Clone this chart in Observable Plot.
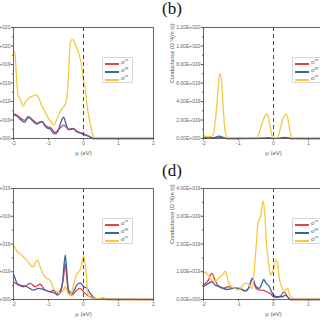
<!DOCTYPE html>
<html><head><meta charset="utf-8">
<script src="https://cdn.jsdelivr.net/npm/d3@7"></script>
<script src="https://cdn.jsdelivr.net/npm/@observablehq/plot@0.6"></script>
<style>
body{margin:0;background:#fff;}
#chart{position:relative;width:320px;height:320px;overflow:hidden;background:#fff;font-family:"Liberation Sans",Arial,sans-serif;}
.panel{position:absolute;}
.plabel{position:absolute;font-family:"Liberation Serif","DejaVu Serif",serif;font-size:17px;line-height:1;color:#111;}
.legend{position:absolute;width:31px;height:26px;border:1px solid #d8d8d8;background:#fff;box-sizing:border-box;}
.legend .row{position:absolute;left:2px;height:8px;width:30px;}
.legend .ln{position:absolute;left:0;top:3px;width:14px;height:2px;}
.legend .tx{position:absolute;left:16px;top:-1px;font-size:6px;color:#555;line-height:1;}
.legend sup{font-size:3.5px;vertical-align:3px;}
</style></head>
<body><div id="chart"></div>
<script>
// x ticks and y ticks
const xTicks = [-2, -1, 0, 1, 2];
const yTicksAB = [0, 2, 4, 6, 8, 10, 12];   // units of 1e19
const yTicksCD = [0, 1, 2, 3, 4];
const seriesNames = ["xx", "yy", "zz"];
const seriesColors = ["#de4448", "#3e61a6", "#f4c93e"];
const panelLabels = ["(b)", "(d)"];
const xTitle = "μ (eV)";
const yTitle = "Conductance (Ω⁻¹/(m s))";

// panel (a) values, [μ, σ in 1e19]
const aXX = [[-2,2.7],[-1.9,2.5],[-1.8,2.2],[-1.68,1.95],[-1.58,2.35],[-1.5,2.15],[-1.4,1.85],[-1.33,1.65],[-1.25,1.8],[-1.18,1.85],[-1.1,1.45],[-1.02,1.25],[-0.95,1.2],[-0.87,0.85],[-0.8,0.65],[-0.72,0.95],[-0.64,1.25],[-0.57,1.45],[-0.5,1.25],[-0.43,1.0],[-0.36,1.05],[-0.29,1.1],[-0.2,0.8],[-0.1,0.65],[0,0.5],[0.1,0.35],[0.2,0.15],[0.28,0],[2,0]];
const aYY = [[-2,2.55],[-1.9,2.4],[-1.8,2.05],[-1.68,1.75],[-1.58,2.3],[-1.5,2.1],[-1.4,1.7],[-1.33,1.55],[-1.25,1.75],[-1.18,1.8],[-1.1,1.35],[-1.02,1.1],[-0.95,1.05],[-0.87,0.6],[-0.8,0.5],[-0.72,0.9],[-0.64,1.8],[-0.57,2.3],[-0.5,1.6],[-0.43,0.95],[-0.36,1.0],[-0.29,1.05],[-0.2,0.75],[-0.1,0.6],[0,0.45],[0.1,0.3],[0.2,0.15],[0.28,0],[2,0]];
const aZZ = [[-2,9.5],[-1.96,9.2],[-1.92,7.0],[-1.87,4.7],[-1.8,4.2],[-1.73,3.5],[-1.65,4.0],[-1.55,4.4],[-1.45,4.6],[-1.35,4.75],[-1.28,4.4],[-1.2,3.6],[-1.1,2.9],[-1.0,2.2],[-0.9,1.7],[-0.85,1.45],[-0.78,1.9],[-0.7,2.6],[-0.62,3.2],[-0.52,3.7],[-0.47,4.6],[-0.42,7.5],[-0.38,10.3],[-0.33,10.7],[-0.27,10.5],[-0.22,10.0],[-0.17,9.6],[-0.12,9.0],[-0.06,8.0],[0,6.3],[0.05,5.4],[0.1,3.6],[0.18,1.8],[0.25,0.6],[0.3,0.1],[0.36,0],[2,0]];

// panel (b)
const bXX = [[-2,0.05],[-1.7,0.05],[-1.55,0.12],[-1.4,0.03],[-1.3,0],[0.2,0.02],[0.35,0.05],[0.5,0],[2,0]];
const bYY = [[-2,0.1],[-1.7,0.1],[-1.55,0.25],[-1.4,0.05],[-1.3,0],[-0.3,0.03],[-0.15,0.08],[0,0.02],[0.2,0.05],[0.35,0.12],[0.5,0],[2,0]];
const bZZ = [[-2,0.3],[-1.9,0.2],[-1.8,0.2],[-1.72,0.4],[-1.66,2.0],[-1.6,4.5],[-1.55,6.7],[-1.52,7.0],[-1.48,6.0],[-1.44,3.5],[-1.39,1.0],[-1.34,0.2],[-1.3,0],[-0.5,0],[-0.42,0.5],[-0.33,1.6],[-0.25,2.4],[-0.19,2.65],[-0.14,2.2],[-0.08,1.0],[-0.03,0.1],[0.1,0],[0.15,0.4],[0.22,1.5],[0.3,2.4],[0.36,2.65],[0.42,2.0],[0.47,0.8],[0.52,0.1],[0.56,0],[2,0]];

// panel (c)
const cXX = [[-2,0.64],[-1.86,0.52],[-1.71,0.46],[-1.52,0.58],[-1.38,0.46],[-1.24,0.55],[-1.1,0.34],[-0.95,0.28],[-0.76,0.22],[-0.62,0.46],[-0.56,0.9],[-0.52,1.3],[-0.48,0.82],[-0.43,0.28],[-0.33,0.16],[-0.19,0.34],[-0.1,0.4],[0,0.28],[0.1,0.16],[0.24,0.07],[0.4,0.02],[0.52,0.04],[0.57,0.07],[0.65,0],[2,0]];
const cYY = [[-2,0.9],[-1.95,0.75],[-1.9,0.58],[-1.81,0.52],[-1.62,0.46],[-1.43,0.34],[-1.29,0.4],[-1.14,0.36],[-0.95,0.28],[-0.86,0.34],[-0.76,0.16],[-0.67,0.22],[-0.6,0.6],[-0.56,1.2],[-0.52,1.6],[-0.48,1.06],[-0.43,0.34],[-0.33,0.22],[-0.19,0.52],[-0.1,0.6],[0,0.46],[0.1,0.4],[0.19,0.22],[0.29,0.07],[0.4,0.02],[2,0]];
const cZZ = [[-2,1.96],[-1.95,1.85],[-1.88,1.7],[-1.81,1.66],[-1.71,1.52],[-1.62,1.42],[-1.52,1.24],[-1.43,1.18],[-1.36,1.35],[-1.31,1.42],[-1.24,1.18],[-1.14,0.88],[-1.05,0.76],[-0.95,0.68],[-0.86,0.4],[-0.76,0.28],[-0.67,0.22],[-0.57,0.34],[-0.52,0.48],[-0.47,0.3],[-0.4,0.16],[-0.33,0.3],[-0.27,0.6],[-0.19,0.92],[-0.1,1.05],[-0.05,1.3],[0,1.55],[0.04,1.35],[0.08,0.9],[0.12,0.22],[0.19,0.07],[0.33,0.04],[0.45,0.02],[0.57,0.07],[0.65,0],[2,0]];

// panel (d)
const dXX = [[-2,0.52],[-1.86,0.7],[-1.76,0.94],[-1.67,0.7],[-1.57,0.48],[-1.43,0.4],[-1.29,0.46],[-1.15,0.43],[-1.0,0.4],[-0.86,0.34],[-0.78,0.31],[-0.69,0.46],[-0.6,0.76],[-0.5,0.4],[-0.4,0.34],[-0.3,0.34],[-0.2,0.28],[-0.1,0.22],[0,0.1],[0.07,0.07],[0.2,0.12],[0.3,0.28],[0.4,0.1],[0.48,0],[2,0]];
const dYY = [[-2,0.46],[-1.86,0.58],[-1.76,0.64],[-1.67,0.52],[-1.53,0.46],[-1.34,0.36],[-1.15,0.4],[-0.96,0.4],[-0.82,0.31],[-0.72,0.4],[-0.6,0.76],[-0.5,0.46],[-0.4,0.4],[-0.34,0.55],[-0.28,0.72],[-0.22,0.6],[-0.12,0.46],[-0.03,0.22],[0.07,0.1],[0.25,0.1],[0.35,0.16],[0.48,0],[2,0]];
const dZZ = [[-2,1.0],[-1.9,0.94],[-1.81,0.76],[-1.72,0.67],[-1.62,0.7],[-1.53,0.82],[-1.45,0.9],[-1.38,1.02],[-1.33,0.85],[-1.29,0.64],[-1.2,0.46],[-1.1,0.4],[-1.0,0.34],[-0.91,0.46],[-0.82,0.58],[-0.72,0.58],[-0.63,0.4],[-0.58,0.6],[-0.55,1.06],[-0.49,2.0],[-0.44,2.8],[-0.39,2.9],[-0.34,3.2],[-0.3,3.55],[-0.25,3.1],[-0.2,2.0],[-0.15,1.42],[-0.11,1.06],[-0.08,0.88],[-0.03,1.0],[0.02,1.18],[0.07,1.42],[0.11,1.36],[0.16,0.82],[0.25,0.4],[0.3,0.28],[0.36,0.35],[0.41,0.4],[0.46,0.16],[0.55,0.04],[0.6,0],[2,0]];

function fmtE(v) {
  const val = v * 1e19;
  if (val === 0) return "0.00E+000";
  const e = Math.floor(Math.log10(val) + 1e-9);
  const m = val / Math.pow(10, e);
  return m.toFixed(2) + "E+" + String(e).padStart(3, "0");
}

function panel(series, yTicks) {
  const ymax = yTicks[yTicks.length - 1];
  const minorX = [-1.5, -0.5, 0.5, 1.5];
  const minorY = yTicks.slice(1).map((t, i) => (t + yTicks[i]) / 2);
  return Plot.plot({
    width: 195, height: 146,
    marginLeft: 45, marginRight: 10, marginTop: 10, marginBottom: 25,
    x: {domain: [-2, 2]},
    y: {domain: [0, ymax]},
    style: {fontFamily: "Liberation Sans, Arial, sans-serif", fontSize: "5px", color: "#666", background: "transparent", overflow: "visible"},
    marks: [
      ...series.map((s, i) => Plot.line(s, {x: d => d[0], y: d => d[1], stroke: seriesColors[i], strokeWidth: 1.3, curve: "monotone-x"})),
      Plot.ruleX([0], {stroke: "#333", strokeWidth: 0.9, strokeDasharray: "4,3"}),
      Plot.frame({stroke: "#555", strokeWidth: 0.9}),
      Plot.axisX({ticks: xTicks, tickFormat: d => String(d), tickSize: 2, tickPadding: 1, label: null, stroke: "#555"}),
      Plot.axisX({ticks: minorX, tickFormat: () => "", tickSize: 1, label: null, stroke: "#555"}),
      Plot.axisY({ticks: yTicks, tickFormat: fmtE, tickSize: 2, tickPadding: 1, label: null, stroke: "#555"}),
      Plot.axisY({ticks: minorY, tickFormat: () => "", tickSize: 1, label: null, stroke: "#555"}),
      Plot.text([xTitle], {text: d => d, frameAnchor: "bottom", dy: 16, fontSize: 6, fill: "#555"}),
      Plot.text([yTitle], {text: d => d, frameAnchor: "left", rotate: -90, dx: -31, fontSize: 5.5, fill: "#555"})
    ]
  });
}

const chart = document.getElementById("chart");
const panels = [
  {series: [aXX, aYY, aZZ], ticks: yTicksAB, left: -32, top: 17},
  {series: [bXX, bYY, bZZ], ticks: yTicksAB, left: 158, top: 17},
  {series: [cXX, cYY, cZZ], ticks: yTicksCD, left: -32, top: 178},
  {series: [dXX, dYY, dZZ], ticks: yTicksCD, left: 158, top: 178}
];
panels.forEach(p => {
  const svg = panel(p.series, p.ticks);
  svg.classList.add("panel");
  svg.style.left = p.left + "px";
  svg.style.top = p.top + "px";
  chart.appendChild(svg);
  // legend
  const lg = document.createElement("div");
  lg.className = "legend";
  lg.style.left = (p.left + 134) + "px";
  lg.style.top = (p.top + 40) + "px";
  seriesNames.forEach((n, i) => {
    const row = document.createElement("div");
    row.className = "row";
    row.style.top = (2 + i * 8) + "px";
    const ln = document.createElement("div");
    ln.className = "ln";
    ln.style.background = seriesColors[i];
    const tx = document.createElement("div");
    tx.className = "tx";
    tx.innerHTML = "σ<sup>" + n + "</sup>";
    row.appendChild(ln); row.appendChild(tx);
    lg.appendChild(row);
  });
  chart.appendChild(lg);
});
[[panelLabels[0], 162, 0], [panelLabels[1], 162, 162]].forEach(([t, x, y]) => {
  const d = document.createElement("div");
  d.className = "plabel";
  d.textContent = t;
  d.style.left = x + "px";
  d.style.top = y + "px";
  chart.appendChild(d);
});
</script></body></html>
